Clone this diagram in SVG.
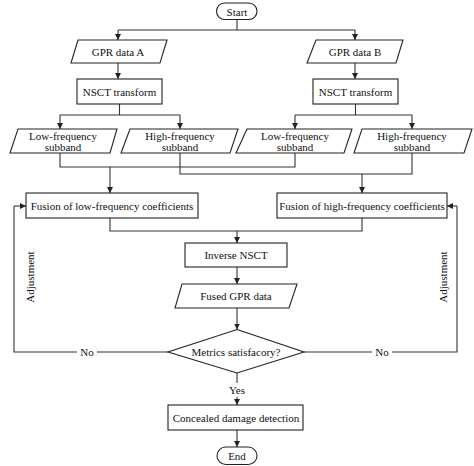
<svg xmlns="http://www.w3.org/2000/svg" width="474" height="466" viewBox="0 0 474 466">
<style>
.s{fill:#fff;stroke:#222;stroke-width:1.1}
.c{fill:none;stroke:#333;stroke-width:1.1}
text{font-family:"Liberation Serif","Times New Roman",serif;font-size:11px;fill:#111;text-anchor:middle;dominant-baseline:central}
</style>
<defs>
<marker id="a" markerWidth="6" markerHeight="6" refX="6" refY="3" orient="auto" markerUnits="userSpaceOnUse">
<path d="M0,0 L6,3 L0,6 Z" fill="#222"/>
</marker>
</defs>
<rect width="474" height="466" fill="#fff"/>
<g id="connectors">
<path class="c" d="M237,19.5 V30 M118,30 H355"/>
<path class="c" d="M118,30 V40" marker-end="url(#a)"/>
<path class="c" d="M355,30 V40" marker-end="url(#a)"/>
<path class="c" d="M118,63 V79" marker-end="url(#a)"/>
<path class="c" d="M355,63 V79" marker-end="url(#a)"/>
<path class="c" d="M119.5,104 V115 M60,115 H180"/>
<path class="c" d="M60,115 V129" marker-end="url(#a)"/>
<path class="c" d="M180,115 V129" marker-end="url(#a)"/>
<path class="c" d="M355.5,104 V115 M295,115 H412"/>
<path class="c" d="M295,115 V129" marker-end="url(#a)"/>
<path class="c" d="M412,115 V129" marker-end="url(#a)"/>
<path class="c" d="M60,153 V167 H295 V153"/>
<path class="c" d="M180,153 V174 H412 V153"/>
<path class="c" d="M110,167 V193" marker-end="url(#a)"/>
<path class="c" d="M362,174 V193" marker-end="url(#a)"/>
<path class="c" d="M110,218 V231 H362 V218"/>
<path class="c" d="M237,231 V243" marker-end="url(#a)"/>
<path class="c" d="M237,267 V284" marker-end="url(#a)"/>
<path class="c" d="M237,308 V329.5" marker-end="url(#a)"/>
<path class="c" d="M168,352 H14 V206" />
<path class="c" d="M14,206 H26" marker-end="url(#a)"/>
<path class="c" d="M304,352 H457 V206"/>
<path class="c" d="M457,206 H447" marker-end="url(#a)"/>
<path class="c" d="M237,373 V383 M237,397 V405" marker-end="url(#a)"/>
<path class="c" d="M237,430 V447" marker-end="url(#a)"/>
<rect x="77" y="345" width="20" height="14" fill="#fff"/>
<text x="87" y="352">No</text>
<rect x="372" y="345" width="20" height="14" fill="#fff"/>
<text x="382" y="352">No</text>
<text x="237" y="390">Yes</text>
<text transform="translate(30,277) rotate(-90)">Adjustment</text>
<text transform="translate(443,277) rotate(-90)">Adjustment</text>
</g>
<g id="start"><rect class="s" x="216.5" y="3" width="40.5" height="16.5" rx="8.25"/><text x="237" y="11.5">Start</text></g>
<g id="gprA"><path class="s" d="M78,40 H167 L160,63 H71 Z"/><text x="118" y="51.5">GPR data A</text></g>
<g id="gprB"><path class="s" d="M316,40 H403 L396,63 H307 Z"/><text x="355" y="51.5">GPR data B</text></g>
<g id="nsctA"><rect class="s" x="77" y="79" width="85" height="25"/><text x="119.5" y="91.5">NSCT transform</text></g>
<g id="nsctB"><rect class="s" x="313" y="79" width="85" height="25"/><text x="355.5" y="91.5">NSCT transform</text></g>
<g id="lowA"><path class="s" d="M18,129 H117 L110,153 H10 Z"/><text x="63" y="135.5">Low-frequency</text><text x="63" y="146.5">subband</text></g>
<g id="highA"><path class="s" d="M130,129 H238 L230,153 H121 Z"/><text x="180" y="135.5">High-frequency</text><text x="180" y="146.5">subband</text></g>
<g id="lowB"><path class="s" d="M247,129 H352 L344,153 H236 Z"/><text x="295" y="135.5">Low-frequency</text><text x="295" y="146.5">subband</text></g>
<g id="highB"><path class="s" d="M362,129 H472 L464,153 H354 Z"/><text x="412" y="135.5">High-frequency</text><text x="412" y="146.5">subband</text></g>
<g id="fusionLow"><rect class="s" x="26" y="193" width="172" height="25"/><text x="112" y="205.5">Fusion of low-frequency coefficients</text></g>
<g id="fusionHigh"><rect class="s" x="277" y="193" width="170" height="25"/><text x="362" y="205.5">Fusion of high-frequency coefficients</text></g>
<g id="inverse"><rect class="s" x="185" y="243" width="102" height="24"/><text x="236" y="255">Inverse NSCT</text></g>
<g id="fused"><path class="s" d="M182,284 H297 L289,308 H175 Z"/><text x="236" y="296">Fused GPR data</text></g>
<g id="metrics"><path class="s" d="M237,329.5 L304,352 L237,373 L168,352 Z"/><text x="236" y="352">Metrics satisfacory?</text></g>
<g id="detect"><rect class="s" x="168" y="405" width="135" height="25"/><text x="236" y="417.5">Concealed damage detection</text></g>
<g id="end"><rect class="s" x="217" y="447" width="40" height="17.5" rx="8.75"/><text x="237" y="456">End</text></g>
</svg>
